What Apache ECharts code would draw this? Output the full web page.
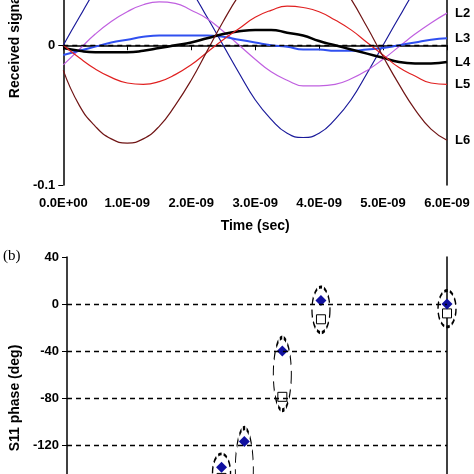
<!DOCTYPE html>
<html><head><meta charset="utf-8">
<script src="https://cdn.jsdelivr.net/npm/echarts@6/dist/echarts.min.js"></script>
<style>html,body{margin:0;padding:0;background:#fff;overflow:hidden;width:474px;height:474px}#c{position:absolute;left:0;top:-101px;width:474px;height:700px}</style>
</head><body><div id="c"></div>
<script>
// Panel (a): time in ns
const timeNs = [0,0.25,0.5,0.75,1,1.25,1.5,1.75,2,2.25,2.5,2.75,3,3.25,3.5,3.75,4,4.25,4.5,4.75,5,5.25,5.5,5.75,6];
const xTickLabels = ['0.0E+00','1.0E-09','2.0E-09','3.0E-09','4.0E-09','5.0E-09','6.0E-09'];
const L1 = [0,0.020,0.039,0.053,0.063,0.066,0.063,0.053,0.039,0.020,0,-0.020,-0.039,-0.053,-0.063,-0.066,-0.063,-0.053,-0.039,-0.020,0,0.020,0.039,0.053,0.063];
const L2 = [-0.014,-0.003,0.008,0.017,0.024,0.029,0.031,0.030,0.025,0.019,0.010,0.000,-0.010,-0.019,-0.025,-0.029,-0.029,-0.028,-0.024,-0.018,-0.010,-0.001,0.008,0.016,0.023];
const L3 = [-0.007,-0.004,-0.001,0.002,0.004,0.006,0.007,0.007,0.007,0.007,0.006,0.004,0.002,0.000,-0.001,-0.003,-0.003,-0.004,-0.004,-0.003,-0.002,0.000,0.002,0.004,0.005];
const L4 = [-0.002,-0.004,-0.005,-0.005,-0.005,-0.004,-0.002,0.000,0.002,0.005,0.008,0.010,0.011,0.011,0.009,0.007,0.003,0.000,-0.003,-0.006,-0.009,-0.012,-0.013,-0.013,-0.012];
const L5 = [0.000,-0.009,-0.017,-0.023,-0.027,-0.028,-0.026,-0.021,-0.014,-0.005,0.004,0.012,0.020,0.025,0.028,0.027,0.024,0.018,0.011,0.002,-0.007,-0.016,-0.022,-0.027,-0.028];
const L6 = [-0.018,-0.043,-0.058,-0.067,-0.070,-0.067,-0.058,-0.043,-0.025,-0.004,0.017,0.036,0.052,0.064,0.070,0.069,0.062,0.050,0.033,0.013,-0.008,-0.028,-0.046,-0.060,-0.068];
// Panel (b)
const bX = [2.44,2.80,3.40,4.01,6.0];
const bDiamond = [-139,-117,-40,3,0];
const bSquare = [-148,-165,-79,-13,-8];
const bGridLines = [0,-40,-80,-120,-160];

const F = 'Liberation Sans, Arial, sans-serif';
const pair = (a)=>timeNs.map((t,i)=>[t,a[i]]);
const mk = (name,data,color,w)=>({name,type:'line',xAxisIndex:0,yAxisIndex:0,data:pair(data),showSymbol:false,smooth:true,
  lineStyle:{color,width:w},itemStyle:{color},
  endLabel:{show:true,formatter:'{a}',color:'#000',fontWeight:'bold',fontSize:13,fontFamily:F,distance:8}});
const series = [
  mk('L1',L1,'#1a1a9a',1.2),
  mk('L2',L2,'#c060e0',1.2),
  mk('L3',L3,'#3050f0',2),
  mk('L4',L4,'#000000',2.5),
  mk('L5',L5,'#e02020',1.2),
  mk('L6',L6,'#701515',1.2)
];
series[0].markLine = {silent:true,symbol:'none',label:{show:false},lineStyle:{color:'#000',type:[5,4],width:1.3},data:[{yAxis:0}]};
const ell = bX.map((x,i)=>[x,(bDiamond[i]+bSquare[i])/2,Math.abs(bDiamond[i]-bSquare[i])]);
series.push({type:'scatter',xAxisIndex:1,yAxisIndex:2,data:ell,symbol:'circle',
  symbolSize:(v)=>[18, v[2]*47/40+27],itemStyle:{color:'none',borderColor:'#000',borderWidth:2,borderType:[5,3],opacity:1},z:1,
  markLine:{silent:true,symbol:'none',label:{show:false},lineStyle:{color:'#000',type:[5,4],width:1.3},data:bGridLines.map(v=>({yAxis:v}))}});
series.push({type:'scatter',xAxisIndex:1,yAxisIndex:2,data:bX.map((x,i)=>[x,bSquare[i]]),symbol:'rect',symbolSize:9,
  itemStyle:{color:'#fff',borderColor:'#000',borderWidth:1,opacity:1},z:2});
series.push({type:'scatter',xAxisIndex:1,yAxisIndex:2,data:bX.map((x,i)=>[x,bDiamond[i]]),symbol:'diamond',symbolSize:11,
  itemStyle:{color:'#1010a0',opacity:1},z:3});

const axL = {show:true,lineStyle:{color:'#000',width:1.5}};
const lab = {color:'#000',fontWeight:'bold',fontSize:13,fontFamily:F};
const opt = {
  animation:false,
  grid:[{left:61,width:386,top:0,height:286},{left:61,width:386,top:358,height:282}],
  xAxis:[
    {type:'value',gridIndex:0,min:0,max:6,interval:1,axisLine:axL,axisTick:{show:true,inside:false,length:5,lineStyle:{color:'#000'}},
     splitLine:{show:false},axisLabel:Object.assign({formatter:(v)=>xTickLabels[Math.round(v)],margin:12,showMaxLabel:true,showMinLabel:true},lab),
     name:'Time (sec)',nameLocation:'middle',nameGap:34,nameTextStyle:Object.assign({},lab,{fontSize:14})},
    {type:'value',gridIndex:1,min:0,max:6,show:false}
  ],
  yAxis:[
    {type:'value',gridIndex:0,min:-0.1,max:0.1,interval:0.1,axisLine:axL,axisTick:{show:true,length:5,lineStyle:{color:'#000'}},splitLine:{show:false},
     axisLabel:Object.assign({formatter:(v)=>v===0?'0':String(Math.round(v*10)/10),margin:8},lab),
     name:'Received signal',nameLocation:'middle',nameGap:38,nameTextStyle:Object.assign({},lab,{fontSize:14})},
    {type:'value',gridIndex:0,position:'right',min:-0.1,max:0.1,axisLine:axL,axisTick:{show:false},axisLabel:{show:false},splitLine:{show:false}},
    {type:'value',gridIndex:1,min:-200,max:40,interval:40,axisLine:axL,axisTick:{show:true,length:5,lineStyle:{color:'#000'}},
     splitLine:{show:false},axisLabel:Object.assign({margin:8},lab),
     name:'S11 phase (deg)',nameLocation:'middle',nameGap:45,nameTextStyle:Object.assign({},lab,{fontSize:14})},
    {type:'value',gridIndex:1,position:'right',min:-200,max:40,axisLine:axL,axisTick:{show:false},axisLabel:{show:false},splitLine:{show:false}}
  ],
  graphic:[{type:'text',left:3,top:350,style:{text:'(b)',font:'15px "Liberation Serif", serif',fill:'#000'}}],
  series
};
echarts.init(document.getElementById('c')).setOption(opt);
</script></body></html>
